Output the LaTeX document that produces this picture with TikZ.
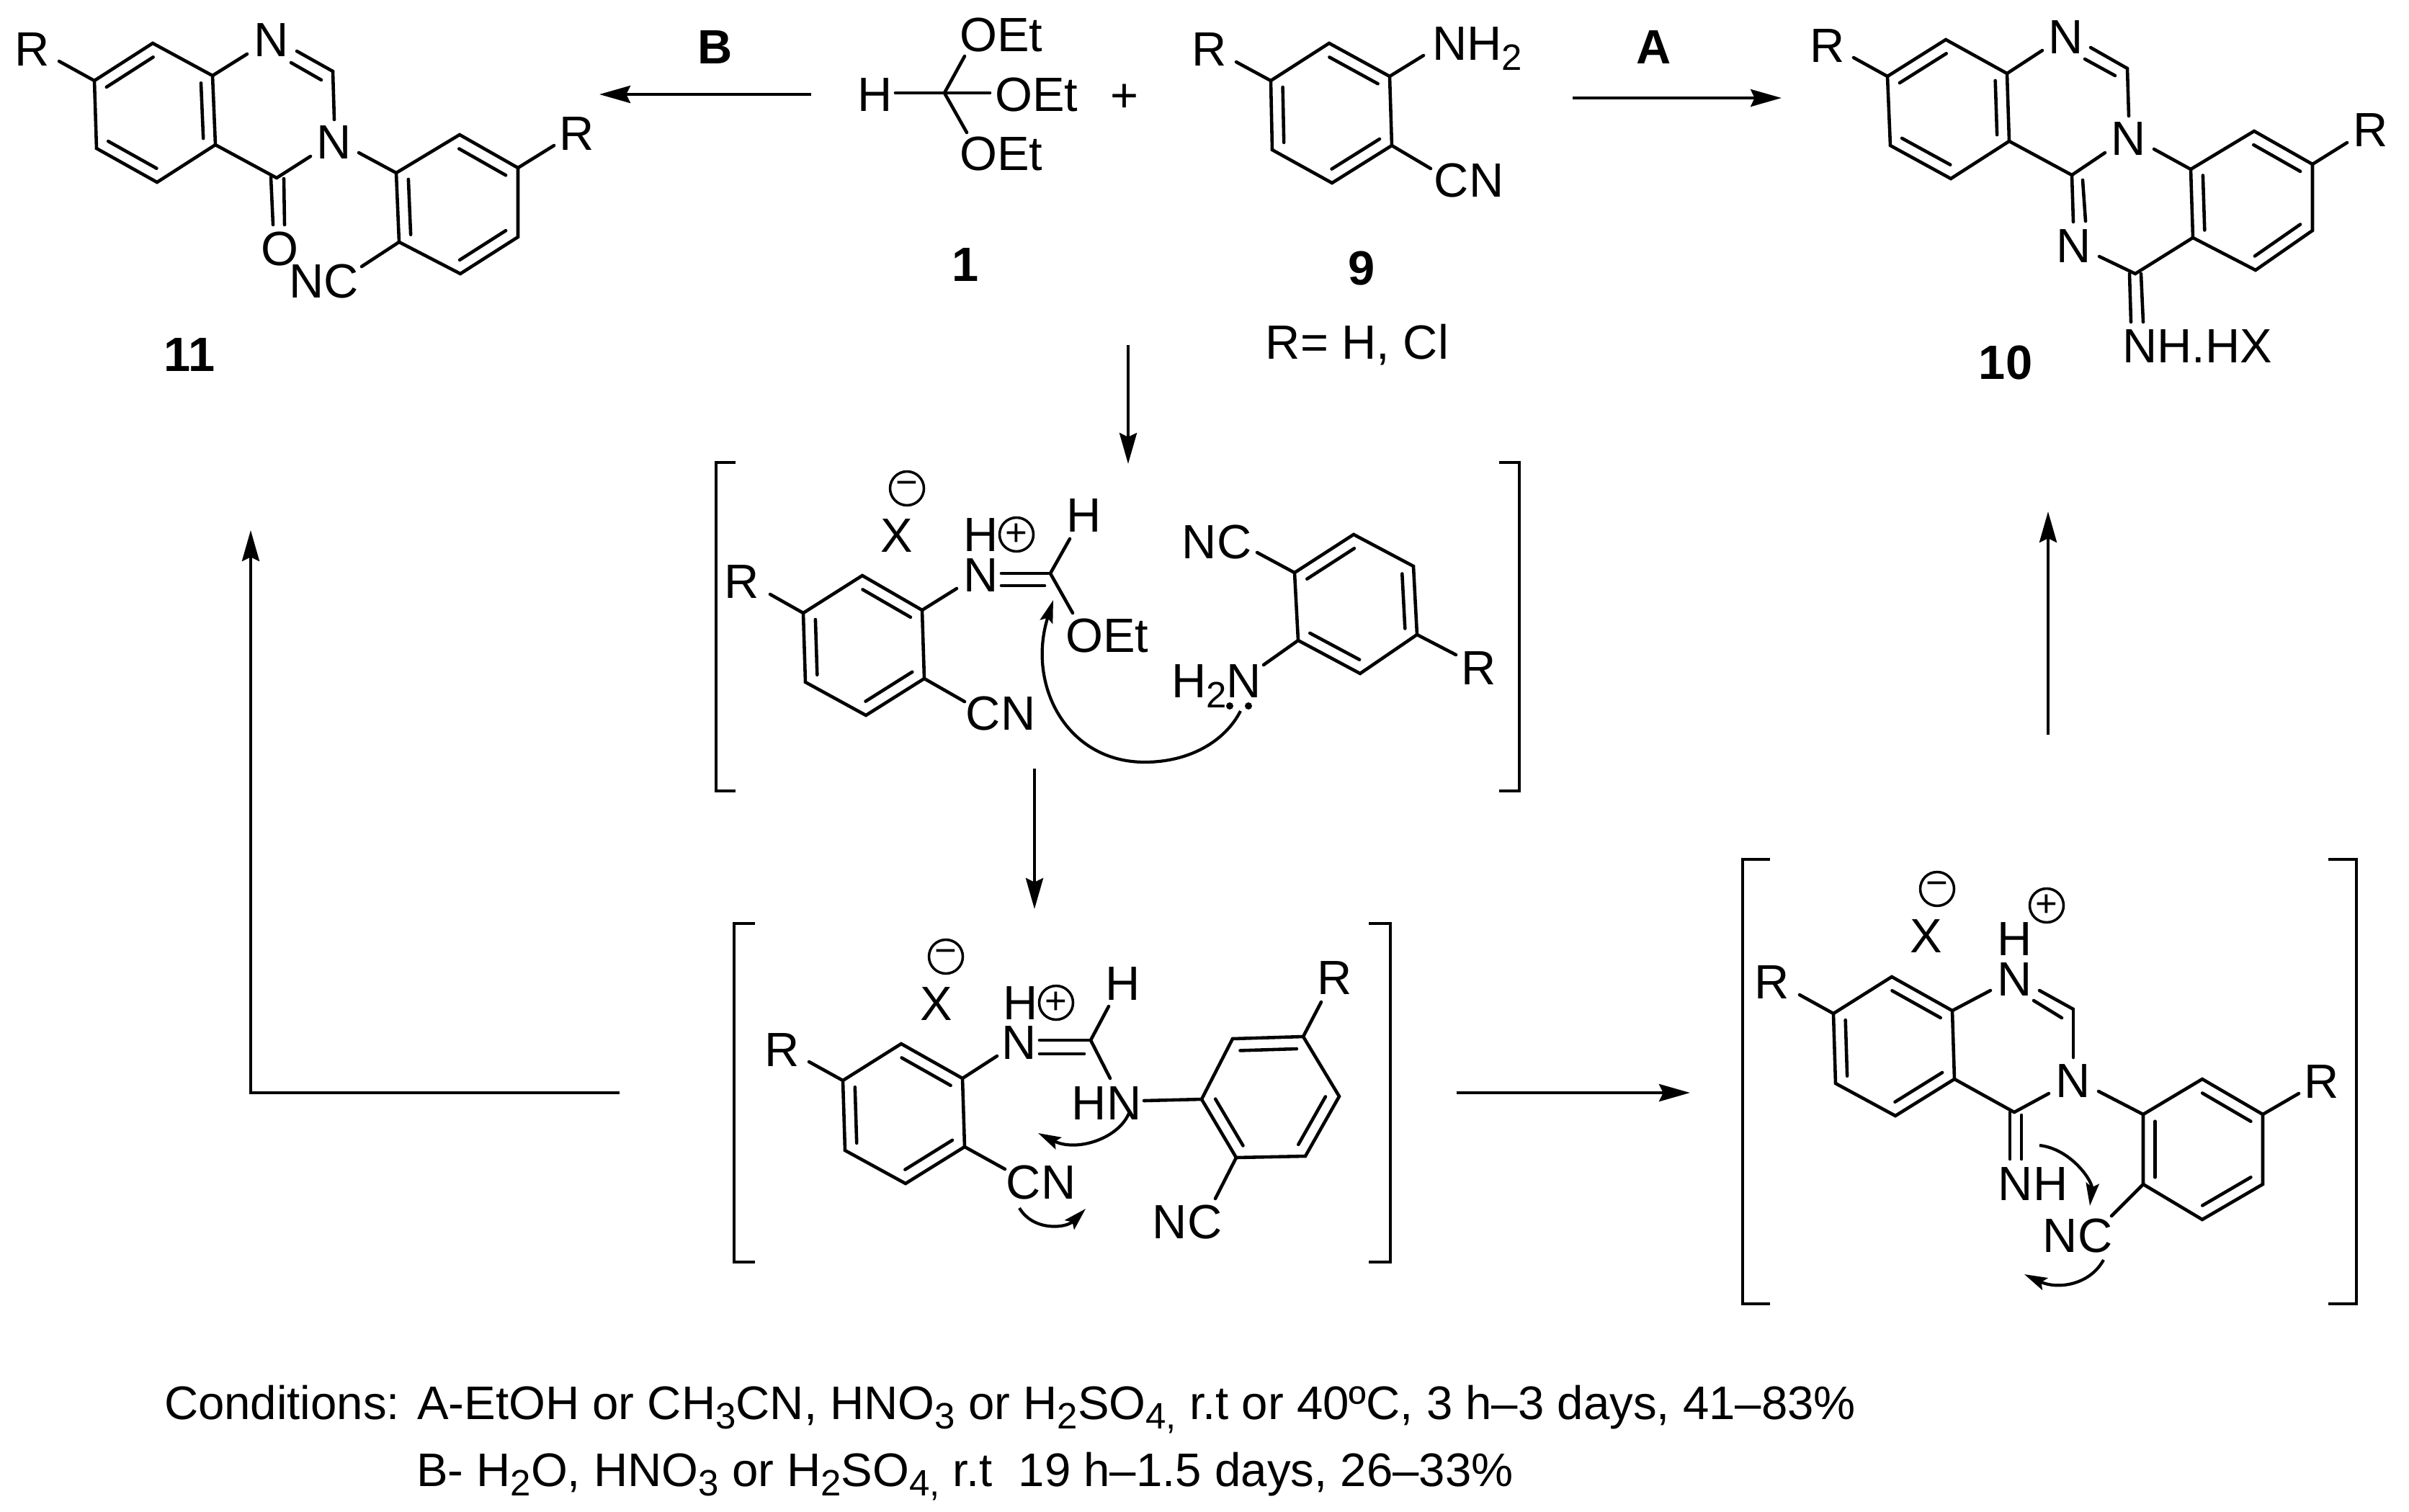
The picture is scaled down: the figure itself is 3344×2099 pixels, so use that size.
\documentclass[tikz,border=0pt]{standalone}
\usepackage{fontspec}
\setmainfont{Liberation Sans}
\usetikzlibrary{arrows.meta,calc}
\newcommand{\sbs}[1]{\raisebox{-0.21em}{\fontsize{14.5}{14.5}\selectfont #1}}
\newcommand{\hexring}[7]{%
  \coordinate (#1a) at (#2); \coordinate (#1b) at (#3); \coordinate (#1c) at (#4);
  \coordinate (#1d) at (#5); \coordinate (#1e) at (#6); \coordinate (#1f) at (#7);
  \coordinate (#1m) at ($(#1a)!.5!(#1d)$);
  \draw[bond] (#1a) -- (#1b) -- (#1c) -- (#1d) -- (#1e) -- (#1f) -- cycle;}
\newcommand{\dblin}[3]{\draw[bond] ($(#1#2)!.2!(#1m)$) -- ($(#1#3)!.2!(#1m)$);}
\tikzset{
  bond/.style={line width=1.3pt,line join=miter,line cap=round},
  rxn/.style={line width=1.35pt,-{Stealth[length=12.2pt,width=6.8pt,inset=1.6pt]}},
  curly/.style={line width=1.2pt,-{Stealth[length=9pt,width=5.2pt,inset=1.6pt]}},
  brk/.style={line width=1.3pt,line join=miter},
  lab/.style={font=\fontsize{19}{21}\selectfont,inner sep=0pt,outer sep=0pt},
  num/.style={font=\fontsize{19}{21}\selectfont\bfseries,inner sep=0pt,outer sep=0pt},
  cnd/.style={font=\fontsize{18.6}{21}\selectfont,inner sep=0pt,outer sep=0pt},
  chg/.style={draw,circle,line width=1pt,minimum size=47*0.1mm,inner sep=0pt,font=\fontsize{15}{15}\selectfont},
  dot/.style={fill,circle,inner sep=0pt,minimum size=1.0mm},
}
\begin{document}
\begin{tikzpicture}[x=0.1mm,y=-0.1mm]
\path[fill=white,use as bounding box] (0,0) rectangle (3344,2099);

% ---------- compound 11
\hexring{A}{212,60}{295,105}{299,201}{218,253}{134,206}{131,112}
\dblin{A}{f}{a}\dblin{A}{b}{c}\dblin{A}{d}{e}
\hexring{B}{550,240}{638,187}{719,233}{719,329}{639,380}{554,336}
\dblin{B}{b}{c}\dblin{B}{a}{f}\dblin{B}{e}{d}
\node[lab] (r11a) at (45,69) {R};
\node[lab] (n11a) at (377,56) {N};
\node[lab] (n11b) at (464,198) {N};
\node[lab] (o11) at (388,346) {O};
\node[lab] (nc11) at (450,391) {NC};
\node[lab] (r11b) at (801,186) {R};
\node[num] (l11) at (263,493) {11};
\coordinate (e1) at (82,85); \draw[bond] (Af) -- (e1);
\coordinate (e2) at (343,75); \draw[bond] (Ab) -- (e2);
\coordinate (c11a) at (462,99); \coordinate (e3) at (412,71); \draw[bond] (e3) -- (c11a);
\coordinate (e4) at (404,87); \coordinate (e5) at (446,111); \draw[bond] (e4) -- (e5);
\coordinate (e6) at (464,166); \draw[bond] (c11a) -- (e6);
\coordinate (c11b) at (384,247); \draw[bond] (Ac) -- (c11b);
\coordinate (e7) at (431,217); \draw[bond] (c11b) -- (e7);
\coordinate (e8) at (376,246); \coordinate (e9) at (379,312); \draw[bond] (e8) -- (e9);
\coordinate (e10) at (394,248); \coordinate (e11) at (395,312); \draw[bond] (e10) -- (e11);
\coordinate (e12) at (498,212); \draw[bond] (e12) -- (Ba);
\coordinate (e13) at (769,202); \draw[bond] (Bc) -- (e13);
\coordinate (e14) at (502,370); \draw[bond] (Bf) -- (e14);

% ---------- compound 1
\node[lab] (h1) at (1215,132) {H};
\node[lab] (oet1) at (1390,49) {OEt};
\node[lab] (oet2) at (1439,132) {OEt};
\node[lab] (oet3) at (1390,214) {OEt};
\node[lab] (plus) at (1561,136) {+};
\node[num] (l1) at (1340,368) {1};
\coordinate (c1) at (1311,129);
\coordinate (f1) at (1243,129); \coordinate (f2) at (1374,129);
\coordinate (f3) at (1339,78); \coordinate (f4) at (1342,184);
\draw[bond] (f1) -- (f2);
\draw[bond] (c1) -- (f3);
\draw[bond] (c1) -- (f4);

% ---------- compound 9
\hexring{C}{1845,60}{1929,106}{1932,202}{1849,254}{1766,208}{1764,112}
\dblin{C}{a}{b}\dblin{C}{f}{e}\dblin{C}{d}{c}
\node[lab] (r9) at (1679,69) {R};
\node[lab,anchor=base west] (nh2) at (1988,83) {NH\sbs{2}};
\node[lab] (cn9) at (2039,251) {CN};
\node[num] (l9) at (1890,373) {9};
\node[lab] (rdef) at (1884,479) {R= H, Cl};
\coordinate (f5) at (1716,86); \draw[bond] (Cf) -- (f5);
\coordinate (f6) at (1976,77); \draw[bond] (Cb) -- (f6);
\coordinate (f7) at (1986,234); \draw[bond] (Cc) -- (f7);

% ---------- compound 10
\hexring{D}{2701,55}{2786,102}{2789,196}{2708,248}{2624,202}{2620,106}
\dblin{D}{f}{a}\dblin{D}{b}{c}\dblin{D}{d}{e}
\hexring{E}{3041,235}{3129,182}{3210,228}{3210,320}{3131,375}{3044,330}
\dblin{E}{b}{c}\dblin{E}{a}{f}\dblin{E}{e}{d}
\node[lab] (r10a) at (2537,64) {R};
\node[lab] (n10a) at (2868,52) {N};
\node[lab] (n10b) at (2955,193) {N};
\node[lab] (n10c) at (2879,342) {N};
\node[lab] (r10b) at (3291,181) {R};
\node[lab] (nhhx) at (3050,481) {NH.HX};
\node[num] (l10) at (2784,504) {10};
\coordinate (g1) at (2573,80); \draw[bond] (Df) -- (g1);
\coordinate (g2) at (2835,70); \draw[bond] (Db) -- (g2);
\coordinate (c10a) at (2953,95); \coordinate (g3) at (2902,66); \draw[bond] (g3) -- (c10a);
\coordinate (g4) at (2894,82); \coordinate (g5) at (2936,105); \draw[bond] (g4) -- (g5);
\coordinate (g6) at (2955,161); \draw[bond] (c10a) -- (g6);
\coordinate (c10b) at (2876,243); \draw[bond] (Dc) -- (c10b);
\coordinate (g7) at (2922,212); \draw[bond] (c10b) -- (g7);
\coordinate (g8) at (2878,308); \draw[bond] (c10b) -- (g8);
\coordinate (g9) at (2891,250); \coordinate (g10) at (2895,307); \draw[bond] (g9) -- (g10);
\coordinate (c10c) at (2964,380); \coordinate (g11) at (2914,356); \draw[bond] (g11) -- (c10c) -- (Ef);
\coordinate (g12) at (2956,380); \coordinate (g13) at (2958,447); \draw[bond] (g12) -- (g13);
\coordinate (g14) at (2972,380); \coordinate (g15) at (2975,447); \draw[bond] (g14) -- (g15);
\coordinate (g16) at (2990,207); \draw[bond] (g16) -- (Ea);
\coordinate (g17) at (3258,198); \draw[bond] (Ec) -- (g17);

% ---------- intermediate 1
\coordinate (b1a) at (1021,642); \coordinate (b1b) at (994,642); \coordinate (b1c) at (994,1098); \coordinate (b1d) at (1021,1098);
\draw[brk] (b1a) -- (b1b) -- (b1c) -- (b1d);
\coordinate (b1e) at (2081,642); \coordinate (b1f) at (2109,642); \coordinate (b1g) at (2109,1098); \coordinate (b1h) at (2081,1098);
\draw[brk] (b1e) -- (b1f) -- (b1g) -- (b1h);
\hexring{K}{1197,799}{1280,847}{1283,942}{1202,993}{1118,947}{1115,851}
\dblin{K}{a}{b}\dblin{K}{f}{e}\dblin{K}{d}{c}
\hexring{M}{1879,742}{1962,786}{1967,881}{1888,935}{1802,889}{1797,795}
\dblin{M}{f}{a}\dblin{M}{b}{c}\dblin{M}{e}{d}
\node[lab] (r1a) at (1030,808) {R};
\node[lab] (x1) at (1245,744) {X};
\node[chg] (minus1) at (1259,678) {−};
\node[lab] (h1a) at (1362,743) {H};
\node[chg] (plus1) at (1411,742) {+};
\node[lab] (n1a) at (1362,799) {N};
\node[lab] (h1b) at (1505,716) {H};
\node[lab] (oet4) at (1537,883) {OEt};
\node[lab] (cn1) at (1389,991) {CN};
\node[lab] (nc1) at (1689,753) {NC};
\node[lab] (r1b) at (2053,928) {R};
\node[lab,anchor=base west] (h2n) at (1626,968) {H\sbs{2}N};
\node[dot] (lp1) at (1707,980) {};
\node[dot] (lp2) at (1733,980) {};
\coordinate (c1a) at (1458,796);
\coordinate (i1) at (1069,825); \draw[bond] (Kf) -- (i1);
\coordinate (i2) at (1328,817); \draw[bond] (Kb) -- (i2);
\coordinate (i3) at (1390,796); \draw[bond] (i3) -- (c1a);
\coordinate (i4) at (1390,813); \coordinate (i5) at (1450,813); \draw[bond] (i4) -- (i5);
\coordinate (i6) at (1485,748); \draw[bond] (c1a) -- (i6);
\coordinate (i7) at (1489,851); \draw[bond] (c1a) -- (i7);
\coordinate (i8) at (1339,974); \draw[bond] (Kc) -- (i8);
\coordinate (i9) at (1745,767); \draw[bond] (Mf) -- (i9);
\coordinate (i10) at (2021,909); \draw[bond] (Mc) -- (i10);
\coordinate (i11) at (1754,923); \draw[bond] (Me) -- (i11);
\coordinate (cs1) at (1722,987); \coordinate (cm1) at (1589,1058); \coordinate (ce1) at (1462,833);
\draw[curly] (cs1) .. controls (1700,1030) and (1650,1058) .. (cm1) .. controls (1480,1058) and (1425,950) .. (ce1);

% ---------- intermediate 2
\coordinate (b2a) at (1048,1282); \coordinate (b2b) at (1019,1282); \coordinate (b2c) at (1019,1752); \coordinate (b2d) at (1048,1752);
\draw[brk] (b2a) -- (b2b) -- (b2c) -- (b2d);
\coordinate (b2e) at (1900,1282); \coordinate (b2f) at (1930,1282); \coordinate (b2g) at (1930,1752); \coordinate (b2h) at (1900,1752);
\draw[brk] (b2e) -- (b2f) -- (b2g) -- (b2h);
\hexring{N}{1251,1449}{1336,1497}{1339,1592}{1257,1643}{1173,1597}{1170,1500}
\dblin{N}{a}{b}\dblin{N}{f}{e}\dblin{N}{d}{c}
\hexring{P}{1668,1526}{1711,1442}{1809,1439}{1859,1522}{1812,1605}{1716,1607}
\dblin{P}{b}{c}\dblin{P}{d}{e}\dblin{P}{a}{f}
\node[lab] (r2a) at (1086,1458) {R};
\node[lab] (x2) at (1300,1394) {X};
\node[chg] (minus2) at (1313,1328) {−};
\node[lab] (h2a) at (1417,1393) {H};
\node[chg] (plus2) at (1466,1392) {+};
\node[lab] (n2a) at (1415,1448) {N};
\node[lab] (h2b) at (1559,1366) {H};
\node[lab] (hn2) at (1536,1532) {HN};
\node[lab] (r2b) at (1853,1358) {R};
\node[lab] (cn2) at (1445,1641) {CN};
\node[lab] (nc2) at (1648,1696) {NC};
\coordinate (c2a) at (1514,1444);
\coordinate (j1) at (1123,1474); \draw[bond] (Nf) -- (j1);
\coordinate (j2) at (1384,1466); \draw[bond] (Nb) -- (j2);
\coordinate (j3) at (1443,1444); \draw[bond] (j3) -- (c2a);
\coordinate (j4) at (1443,1463); \coordinate (j5) at (1505,1463); \draw[bond] (j4) -- (j5);
\coordinate (j6) at (1539,1397); \draw[bond] (c2a) -- (j6);
\coordinate (j7) at (1541,1497); \draw[bond] (c2a) -- (j7);
\coordinate (j8) at (1588,1528); \draw[bond] (j8) -- (Pa);
\coordinate (j9) at (1834,1391); \draw[bond] (Pc) -- (j9);
\coordinate (j10) at (1687,1664); \draw[bond] (Pf) -- (j10);
\coordinate (j11) at (1395,1623); \draw[bond] (Nc) -- (j11);
\coordinate (cs2) at (1568,1543); \coordinate (ce2) at (1441,1573);
\draw[curly] (cs2) .. controls (1555,1580) and (1495,1600) .. (ce2);
\coordinate (cs3) at (1415,1677); \coordinate (ce3) at (1507,1678);
\draw[curly] (cs3) .. controls (1435,1710) and (1480,1705) .. (ce3);

% ---------- intermediate 3
\coordinate (b3a) at (2457,1193); \coordinate (b3b) at (2419,1193); \coordinate (b3c) at (2419,1810); \coordinate (b3d) at (2457,1810);
\draw[brk] (b3a) -- (b3b) -- (b3c) -- (b3d);
\coordinate (b3e) at (3232,1193); \coordinate (b3f) at (3271,1193); \coordinate (b3g) at (3271,1810); \coordinate (b3h) at (3232,1810);
\draw[brk] (b3e) -- (b3f) -- (b3g) -- (b3h);
\hexring{Q}{2626,1356}{2710,1403}{2713,1498}{2631,1549}{2548,1504}{2545,1407}
\dblin{Q}{a}{b}\dblin{Q}{f}{e}\dblin{Q}{d}{c}
\hexring{T}{2975,1547}{3057,1498}{3141,1547}{3141,1644}{3057,1693}{2975,1644}
\dblin{T}{b}{c}\dblin{T}{a}{f}\dblin{T}{e}{d}
\node[lab] (r3a) at (2460,1364) {R};
\node[lab] (x3) at (2674,1300) {X};
\node[chg] (minus3) at (2689,1234) {−};
\node[lab] (h3a) at (2797,1304) {H};
\node[chg] (plus3) at (2841,1257) {+};
\node[lab] (n3a) at (2797,1360) {N};
\node[lab] (n3b) at (2878,1501) {N};
\node[lab] (nh3) at (2822,1644) {NH};
\node[lab] (r3b) at (3223,1502) {R};
\node[lab] (nc3) at (2884,1715) {NC};
\coordinate (k1) at (2498,1381); \draw[bond] (Qf) -- (k1);
\coordinate (k2) at (2763,1375); \draw[bond] (Qb) -- (k2);
\coordinate (c3a) at (2878,1401); \coordinate (k3) at (2831,1375); \draw[bond] (k3) -- (c3a);
\coordinate (k4) at (2823,1389); \coordinate (k5) at (2862,1413); \draw[bond] (k4) -- (k5);
\coordinate (k6) at (2878,1468); \draw[bond] (c3a) -- (k6);
\coordinate (c3b) at (2796,1544); \draw[bond] (Qc) -- (c3b);
\coordinate (k7) at (2844,1518); \draw[bond] (c3b) -- (k7);
\coordinate (k8) at (2790,1544); \coordinate (k9) at (2790,1609); \draw[bond] (k8) -- (k9);
\coordinate (k10) at (2806,1548); \coordinate (k11) at (2806,1609); \draw[bond] (k10) -- (k11);
\coordinate (k12) at (2913,1515); \draw[bond] (k12) -- (Ta);
\coordinate (k13) at (3191,1518); \draw[bond] (Tc) -- (k13);
\coordinate (k14) at (2931,1688); \draw[bond] (Tf) -- (k14);
\coordinate (cs4) at (2831,1590); \coordinate (ce4) at (2901,1674);
\draw[curly] (cs4) .. controls (2875,1595) and (2905,1640) .. (ce4);
\coordinate (cs5) at (2920,1749); \coordinate (ce5) at (2810,1769);
\draw[curly] (cs5) .. controls (2900,1785) and (2855,1790) .. (ce5);

% ---------- reaction arrows
\node[num] (lb) at (993,66) {B};
\node[num] (la) at (2296,66) {A};
\coordinate (ab1) at (1126,131); \coordinate (ab2) at (832,131); \draw[rxn] (ab1) -- (ab2);
\coordinate (aa1) at (2183,136); \coordinate (aa2) at (2473,136); \draw[rxn] (aa1) -- (aa2);
\coordinate (av1) at (1566,479); \coordinate (av2) at (1566,644); \draw[rxn] (av1) -- (av2);
\coordinate (av3) at (1436,1067); \coordinate (av4) at (1436,1262); \draw[rxn] (av3) -- (av4);
\coordinate (ar1) at (2022,1517); \coordinate (ar2) at (2346,1517); \draw[rxn] (ar1) -- (ar2);
\coordinate (al1) at (860,1517); \coordinate (al2) at (348,1517); \coordinate (al3) at (348,736);
\draw[rxn,line join=miter] (al1) -- (al2) -- (al3);
\coordinate (au1) at (2843,1020); \coordinate (au2) at (2843,710); \draw[rxn] (au1) -- (au2);

% ---------- conditions
\node[cnd,anchor=base west] (cond1) at (228,1970) {Conditions: A-EtOH or CH\sbs{3}CN, HNO\sbs{3} or H\sbs{2}SO\sbs{4,} r.t or 40ºC, 3 h–3 days, 41–83\%};
\node[cnd,anchor=base west] (cond2) at (578,2063) {B- H\sbs{2}O, HNO\sbs{3} or H\sbs{2}SO\sbs{4,} r.t\ \ 19 h–1.5 days, 26–33\%};
\end{tikzpicture}
\end{document}
